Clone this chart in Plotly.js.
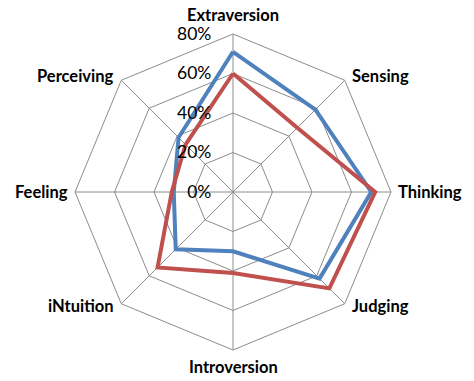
<!DOCTYPE html>
<html><head><meta charset="utf-8">
<script src="https://cdn.plot.ly/plotly-3.0.1.min.js"></script>
<style>html,body{margin:0;padding:0;background:#fff}#chart{width:474px;height:381px}</style>
</head><body><div id="chart"></div>
<script>
var categories = ["Extraversion","Sensing","Thinking","Judging","Introversion","iNtuition","Feeling","Perceiving"];
var seriesBlue = [71, 59, 70, 62, 30, 41, 30, 39];
var seriesRed  = [60, 46, 72, 69, 41, 54, 31, 34];
var radialTicks = [0, 20, 40, 60, 80];
var radialTickLabels = ["0%","20%","40%","60%","80%"];

function closed(a){ return a.concat([a[0]]); }

var W = 474, H = 381;
var cx = 233, cy = 192, R = 158;

var traces = [
  {type:"scatterpolar", r: closed(seriesBlue), theta: closed(categories), mode:"lines",
   line:{color:"#4F81BD", width:4}, name:"Series 1", hoverinfo:"skip"},
  {type:"scatterpolar", r: closed(seriesRed), theta: closed(categories), mode:"lines",
   line:{color:"#C0504D", width:4}, name:"Series 2", hoverinfo:"skip"}
];

// category labels placed just outside the outer polygon vertices
var annotations = categories.map(function(name, i){
  var a = i * Math.PI / 4;              // clockwise from top
  var vx = cx + R * Math.sin(a), vy = cy - R * Math.cos(a);
  var s = Math.round(Math.sin(a) * 1000) / 1000, c = Math.round(Math.cos(a) * 1000) / 1000;
  var px = vx, py = vy, xa = "center";
  if (s > 0) { xa = "left"; px = vx + 5; }
  else if (s < 0) { xa = "right"; px = vx - 5; }
  if (s === 0) { py = c > 0 ? vy - 19 : vy + 17; }
  else if (c > 0.1) { py = vy - 4; }
  else if (c < -0.1) { py = vy + 2; }
  return {text:name, x:px / W, y:1 - py / H, xref:"paper", yref:"paper",
          xanchor:xa, yanchor:"middle", showarrow:false,
          font:{size:16.5, color:"#000", family:"Lato, sans-serif", weight:"bold"}};
});

var layout = {
  width:W, height:H,
  margin:{l:0,r:0,t:0,b:0},
  paper_bgcolor:"#fff",
  showlegend:false,
  font:{family:"Lato, 'Open Sans', sans-serif", color:"#000"},
  annotations: annotations,
  polar:{
    domain:{x:[(cx - R)/W, (cx + R)/W], y:[1 - (cy + R)/H, 1 - (cy - R)/H]},
    bgcolor:"#fff",
    gridshape:"linear",
    radialaxis:{
      range:[0,80], tickvals:radialTicks, ticktext:radialTickLabels,
      angle:90, side:"counterclockwise", tickangle:90,
      showline:false, ticks:"outside", ticklen:15, tickcolor:"rgba(0,0,0,0)",
      gridcolor:"#8c8c8c", gridwidth:1,
      tickfont:{size:17.5, color:"#000", family:"Lato, sans-serif"}
    },
    angularaxis:{
      direction:"clockwise", rotation:90, type:"category",
      categoryarray:categories, showticklabels:false,
      showline:true, linecolor:"#8c8c8c", linewidth:1,
      gridcolor:"#8c8c8c", gridwidth:1, ticks:""
    }
  }
};

Plotly.newPlot("chart", traces, layout, {staticPlot:true, displayModeBar:false});
</script>
</body></html>
